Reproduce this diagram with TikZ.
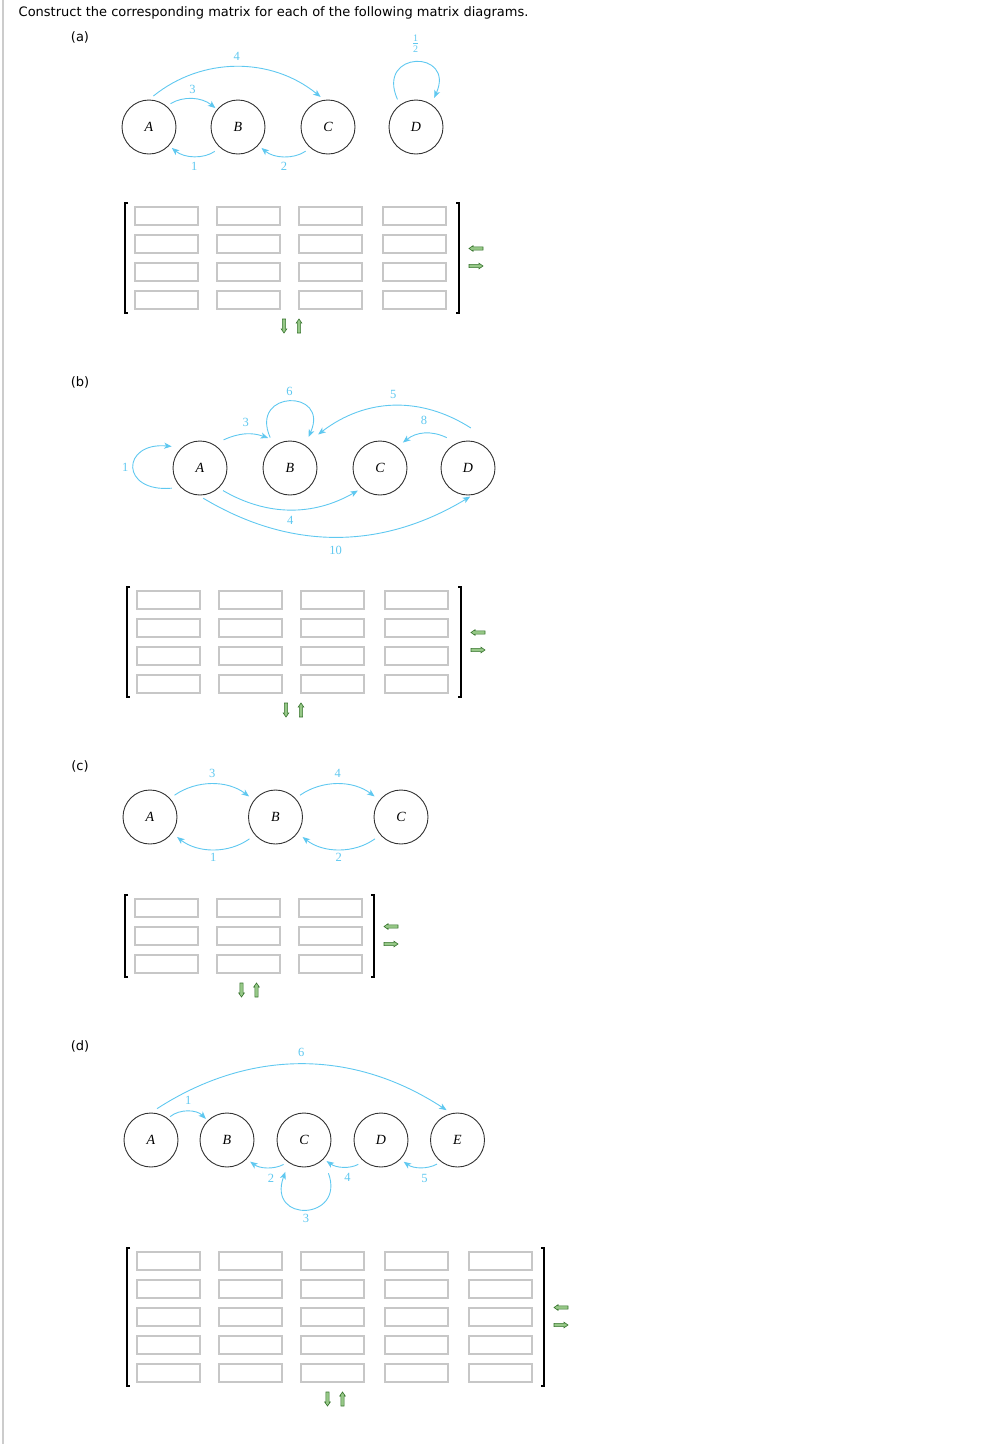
\documentclass[tikz,border=0pt]{standalone}
\usepackage{fontspec}
\setmainfont{Liberation Serif}
\newfontfamily\qsans{DejaVu Sans}
\usetikzlibrary{arrows.meta}
\definecolor{wcyan}{RGB}{95,200,240}
\definecolor{gfill}{RGB}{150,200,135}
\definecolor{gline}{RGB}{55,115,45}
\tikzstyle{vtx}=[circle,draw=black!80,line width=0.9pt,minimum size=54pt,inner sep=0pt,font=\fontsize{14}{16}\selectfont\itshape]
\tikzstyle{wt}=[-{Stealth[length=7.5pt,width=6pt,inset=2pt]},draw=wcyan,line width=0.9pt]
\tikzstyle{lbl}=[text=wcyan,inner sep=6.8pt,font=\fontsize{12.5}{14}\selectfont]
\tikzstyle{cell}=[draw=black!22,line width=1.2pt]
\tikzstyle{brk}=[line width=2pt]
\tikzstyle{part}=[font=\qsans\fontsize{13}{15}\selectfont,anchor=base,inner sep=0pt]
\tikzset{garrow/.pic={
  \draw[gline,fill=gfill,line width=0.6pt] (-7,-1.6) -- (3,-1.6) -- (3,-2.8) -- (7,0)
    -- (3,2.8) -- (3,1.6) -- (-7,1.6) -- cycle;}}
\newcommand{\smalldig}[1]{\mbox{\fontsize{10}{11}\selectfont #1}}
% brackets and arrow icons of a matrix: left x, top y, right x, bottom y
\newcommand{\mframe}[4]{%
  \draw[brk] (#1+3,#2) -- (#1,#2) -- (#1,#4) -- (#1+3,#4);
  \draw[brk] (#3-3,#2) -- (#3,#2) -- (#3,#4) -- (#3-3,#4);
  \pic[rotate=180] at (#3+17,{(#2+#4)/2-9.5}) {garrow};
  \pic at (#3+17,{(#2+#4)/2+8}) {garrow};
  \pic[rotate=-90] at ({(#1+#3)/2-8},#4+13) {garrow};
  \pic[rotate=90] at ({(#1+#3)/2+7},#4+13) {garrow};}

\begin{document}
\begin{tikzpicture}[x=1pt,y=-1pt]
\useasboundingbox (0,0) rectangle (984,1444);
\draw[black!20,line width=2pt] (2.5,0) -- (2.5,1444);
\node[part,anchor=base west] (title) at (18.5,16.5) {Construct the corresponding matrix for each of the following matrix diagrams.};

% (a)
\node[part] (pa) at (80,41) {(a)};
\node[vtx] (A1) at (149,127) {A};
\node[vtx] (B1) at (238,127) {B};
\node[vtx] (C1) at (328,127) {C};
\node[vtx] (D1) at (416,127) {D};

\path (A1.90) edge [wt,bend left=39,shorten <=5.6pt,shorten >=4.6pt] node[lbl,above] {4} (C1.98)
      (A1.50) edge [wt,bend left=35,shorten <=4.5pt,shorten >=2pt] node[lbl,above,yshift=-1.5pt] {3} (B1.140)
      (B1.229) edge [wt,bend left=37,shorten <=6.4pt,shorten >=3.5pt] node[lbl,below,yshift=1pt] {1} (A1.317)
      (C1.230) edge [wt,bend left=37,shorten <=5.7pt,shorten >=4pt] node[lbl,below,yshift=1pt] {2} (B1.318)
      (D1.126) edge [wt,out=114,in=66,distance=60pt,shorten <=5.9pt,shorten >=7pt] node[lbl,above,yshift=4pt,font=\fontsize{14}{16}\selectfont] {$\frac{\smalldig{1}}{\smalldig{2}}$} (D1.56);

\foreach \x in {135,217,299,383}
  \foreach \y in {207,235,263,291}
    \draw[cell] (\x,\y) rectangle ++(63,18);
\mframe{125}{203}{459}{313}

% (b)
\node[part] (pb) at (80,386) {(b)};
\node[vtx] (A2) at (200,468) {A};
\node[vtx] (B2) at (290,468) {B};
\node[vtx] (C2) at (380,468) {C};
\node[vtx] (D2) at (468,468) {D};

\path (A2.225) edge [wt,out=185,in=175,distance=61pt,shorten <=8.8pt,shorten >=10.3pt] node[lbl,left] {1} (A2.131)
      ([shift={(50:9.3pt)}]A2.50) edge [wt,bend left=22] node[lbl,above] {3} ([shift={(126:9.6pt)}]B2.126)
      (B2.126) edge [wt,out=114,in=66,distance=61.5pt,shorten <=9pt,shorten >=8.8pt] node[lbl,above] {6} (B2.57)
      ([shift={(86:12.7pt)}]D2.86) edge [wt,bend right=35] node[lbl,above] {5} ([shift={(50:16.3pt)}]B2.50)
      ([shift={(125:9.6pt)}]D2.125) edge [wt,bend right=32] node[lbl,above,yshift=1.4pt] {8} ([shift={(48:6.8pt)}]C2.48)
      (A2.313) edge [wt,bend right=30,shorten <=5pt,shorten >=4.3pt] node[lbl,below] {4} (C2.228)
      (A2.267) edge [wt,bend right=31,shorten <=5.4pt,shorten >=3pt] node[lbl,below,yshift=-2.4pt] {10} (D2.280);

\foreach \x in {137,219,301,385}
  \foreach \y in {591,619,647,675}
    \draw[cell] (\x,\y) rectangle ++(63,18);
\mframe{127}{587}{461}{697}

% (c)
\node[part] (pc) at (80,770) {(c)};
\node[vtx] (A3) at (150,817) {A};
\node[vtx] (B3) at (275.5,817) {B};
\node[vtx] (C3) at (401,817) {C};

\path (A3.43) edge [wt,bend left=36,shorten <=5.4pt,shorten >=6pt] node[lbl,above] {3} (B3.142)
      (B3.43) edge [wt,bend left=36,shorten <=5.4pt,shorten >=6pt] node[lbl,above] {4} (C3.142)
      (B3.221) edge [wt,bend left=37,shorten <=6.6pt,shorten >=6.2pt] node[lbl,below,yshift=2.6pt] {1} (A3.324)
      (C3.221) edge [wt,bend left=37,shorten <=6.6pt,shorten >=6.2pt] node[lbl,below,yshift=2.6pt] {2} (B3.324);

\foreach \x in {135,217,299}
  \foreach \y in {899,927,955}
    \draw[cell] (\x,\y) rectangle ++(63,18);
\mframe{125}{895}{374}{977}

% (d)
\node[part] (pd) at (80,1050) {(d)};
\node[vtx] (A4) at (151,1140) {A};
\node[vtx] (B4) at (227,1140) {B};
\node[vtx] (C4) at (304,1140) {C};
\node[vtx] (D4) at (381,1140) {D};
\node[vtx] (E4) at (457.5,1140) {E};

\path (A4.90) edge [wt,bend left=33,shorten <=7.2pt,shorten >=5.6pt] node[lbl,above,yshift=1pt] {6} (E4.103)
      (A4.52) edge [wt,bend left=42,shorten <=2.8pt,shorten >=2.4pt] node[lbl,above] {1} (B4.135)
      (C4.234) edge [wt,bend left=32,shorten <=4.8pt,shorten >=4.3pt] node[lbl,below,pos=0.4] {2} (B4.316)
      (D4.231) edge [wt,bend left=32,shorten <=6.2pt,shorten >=3.4pt] node[lbl,below,pos=0.4] {4} (C4.316)
      (E4.233) edge [wt,bend left=32,shorten <=4.5pt,shorten >=4pt] node[lbl,below,pos=0.4] {5} (D4.315)
      (C4.315) edge [wt,out=290,in=250,distance=65pt,shorten <=14.7pt,shorten >=9.6pt] node[lbl,below] {3} (C4.236);

\foreach \x in {137,219,301,385,469}
  \foreach \y in {1252,1280,1308,1336,1364}
    \draw[cell] (\x,\y) rectangle ++(63,18);
\mframe{127}{1248}{544}{1386}

\end{tikzpicture}
\end{document}
